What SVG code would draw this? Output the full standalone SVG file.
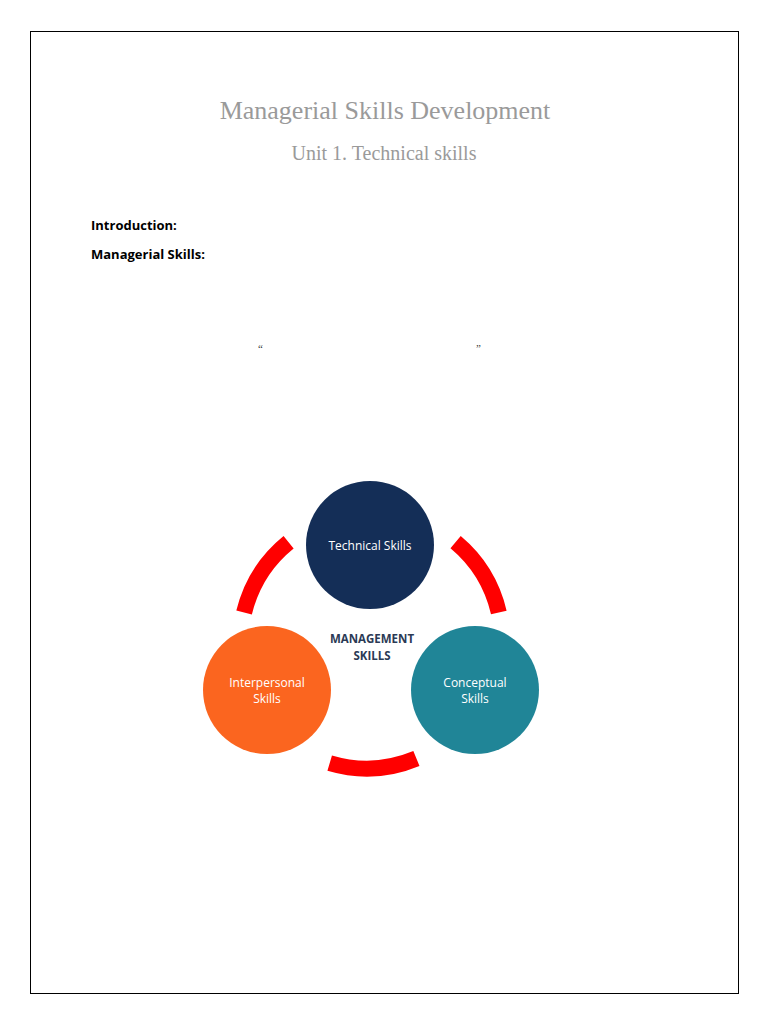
<svg xmlns="http://www.w3.org/2000/svg" width="768" height="1024" viewBox="0 0 768 1024">
<style>
.t{font-family:"Liberation Serif",serif;fill:#9a9a9a;text-anchor:middle}
.h{font-family:"Open Sans","Liberation Sans",sans-serif;font-weight:bold;font-size:13px;fill:#000}
.n{font-family:"Open Sans","Liberation Sans",sans-serif;font-size:12px;fill:#fff;text-anchor:middle}
.arc{fill:none;stroke:#ff0000;stroke-width:16}
</style>
<rect width="768" height="1024" fill="#fff"/>
<rect x="30.5" y="31.5" width="708" height="962" fill="none" stroke="#000" stroke-width="1"/>
<text class="t" x="385" y="119" font-size="26">Managerial Skills Development</text>
<text class="t" x="384" y="160" font-size="20">Unit 1. Technical skills</text>
<text class="h" x="91" y="230">Introduction:</text>
<text class="h" x="91" y="259">Managerial Skills:</text>
<text x="258" y="352" font-family="Liberation Serif,serif" font-size="11" fill="#333">“</text>
<text x="476" y="352" font-family="Liberation Serif,serif" font-size="11" fill="#333">”</text>
<g id="connectors">
<path class="arc" d="M288.6,542.2 A130,130 0 0 0 244.1,612.5"/>
<path class="arc" d="M455.6,542.2 A130,130 0 0 1 498.8,612.5"/>
<path class="arc" d="M329.7,763.1 A130,130 0 0 0 416.4,758.5"/>
</g>
<g id="technical"><circle cx="370" cy="545" r="64" fill="#142e57"/><text class="n" x="370" y="550">Technical Skills</text></g>
<g id="interpersonal"><circle cx="267" cy="690" r="64" fill="#fb651f"/><text class="n" x="267" y="687">Interpersonal</text><text class="n" x="267" y="703">Skills</text></g>
<g id="conceptual"><circle cx="475" cy="690" r="64" fill="#208597"/><text class="n" x="475" y="687">Conceptual</text><text class="n" x="475" y="703">Skills</text></g>
<g id="center"><text class="h" x="372" y="643" font-size="11.5" fill="#2b3a55" text-anchor="middle" style="fill:#2b3a55;font-size:11.5px">MANAGEMENT</text><text class="h" x="372" y="660" text-anchor="middle" style="fill:#2b3a55;font-size:11.5px">SKILLS</text></g>
</svg>
